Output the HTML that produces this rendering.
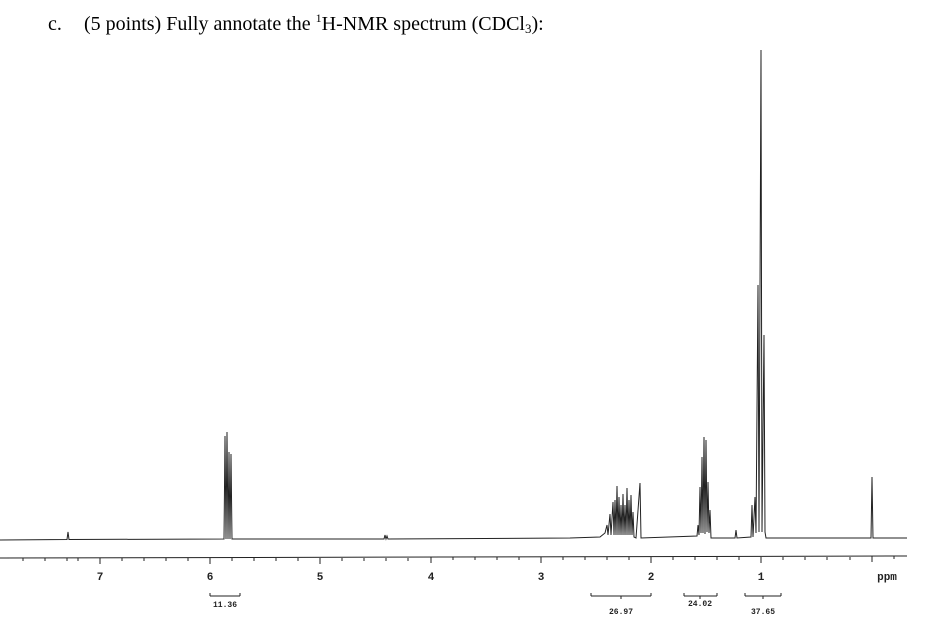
<!DOCTYPE html>
<html><head><style>
body{margin:0;background:#fff;width:925px;height:627px;overflow:hidden;}
svg{display:block}
</style></head><body>
<svg width="925" height="627" xmlns="http://www.w3.org/2000/svg">
<text x="48" y="30" font-family="Liberation Serif, serif" font-size="20" fill="#000">c.</text>
<text x="84" y="30" font-family="Liberation Serif, serif" font-size="20" fill="#000">(5 points) Fully annotate the <tspan font-size="12" dy="-8">1</tspan><tspan dy="8">H-NMR spectrum (CDCl</tspan><tspan font-size="13" dy="3">3</tspan><tspan dy="-3">):</tspan></text>
<g fill="none" stroke="#222" stroke-width="1">
<path d="M0 540 L67 539.5 L68 532 L69 539.5 L224 539 L225 436 L226 539 L227 432 L228 539 L229 452 L230 539 L231 454 L232 539
L384 539 L385 535 L386 539 L387 536 L388 539 L570 538 L600 537 L605 533 L607 525 L608 535 L610 514 L611 535 L613 502 L614 535 L615 500 L616 535 L617 486 L618 535 L619 497 L620 535 L621 505 L622 535 L623 494 L624 535 L625 505 L626 535 L627 488 L628 535 L629 500 L630 535 L631 495 L632 535 L633 512 L634 537 L636 538 L640 483 L641 538
L697 536 L698 525 L699 535 L700 487 L701 533 L702 457 L703 533 L704 437 L705 534 L706 440 L707 532 L708 482 L709 533 L710 510 L711 538 L735 538 L736 530 L737 538 L751 537 L752 505 L753 537 L755 497 L756 533 L758 285 L759 532 L761 50 L762 532 L764 335 L765 532 L766 538 L871 538 L872 477 L873 538 L907 538"/>
<line x1="0" y1="558" x2="907" y2="556"/>
</g>
<g stroke="#222" stroke-width="1">
<line x1="100" y1="558" x2="100" y2="564"/><line x1="210" y1="558" x2="210" y2="564"/>
<line x1="320" y1="558" x2="320" y2="564"/><line x1="431" y1="557" x2="431" y2="563"/>
<line x1="541" y1="557" x2="541" y2="563"/><line x1="651" y1="557" x2="651" y2="563"/>
<line x1="761" y1="557" x2="761" y2="563"/><line x1="872" y1="556" x2="872" y2="562"/>
<path d="M23 558v3M45 558v3M67 558v3M78 558v3M122 558v3M144 558v3M166 558v3M188 558v3M232 558v3M254 558v3M276 558v3M298 558v3M342 558v3M364 558v3M386 558v3M408 558v3M453 557v3M475 557v3M497 557v3M519 557v3M563 557v3M585 557v3M607 557v3M629 557v3M673 557v3M695 557v3M717 557v3M739 557v3M783 557v3M805 557v3M827 557v3M850 557v3M894 556v3"/>
<path d="M210 596v-3M210 596h30M240 596v-3" fill="none"/>
<path d="M591 596v-3M591 596h60M651 596v-3M621 596v3" fill="none"/>
<path d="M684 596v-3M684 596h33M717 596v-3M700 596v3" fill="none"/>
<path d="M745 596v-3M745 596h36M781 596v-3M763 596v3" fill="none"/>
</g>
<g font-family="Liberation Mono, monospace" font-weight="bold" fill="#222" text-anchor="middle">
<text x="100" y="580" font-size="11">7</text><text x="210" y="580" font-size="11">6</text>
<text x="320" y="580" font-size="11">5</text><text x="431" y="580" font-size="11">4</text>
<text x="541" y="580" font-size="11">3</text><text x="651" y="580" font-size="11">2</text>
<text x="761" y="580" font-size="11">1</text><text x="887" y="580" font-size="11">ppm</text>
<text x="225" y="607" font-size="8">11.36</text>
<text x="621" y="614" font-size="8">26.97</text>
<text x="700" y="606" font-size="8">24.02</text>
<text x="763" y="614" font-size="8">37.65</text>
</g>
</svg>
</body></html>
